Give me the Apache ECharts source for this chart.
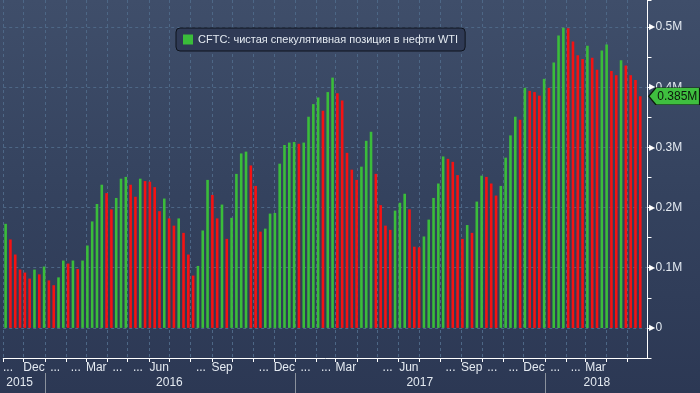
<!DOCTYPE html>
<html><head><meta charset="utf-8">
<script src="https://cdn.jsdelivr.net/npm/echarts@6/dist/echarts.min.js"></script>
<style>html,body{margin:0;padding:0;background:#2c3955;}#c{width:700px;height:393px;}</style>
</head><body><div id="c"></div>
<script>
// ---- data (thousands of contracts), weekly from 2015-11-03 ----
const firstWeek = [2015, 10, 3];
const netPositionK = [
 173,147,122,97,92,82,97,89,102,79,71,84,112,107,112,98,112,137,177,206,
 238,224,197,216,248,251,238,218,248,244,243,234,194,215,182,170,182,158,122,87,
 103,162,246,221,182,205,148,183,256,290,293,270,236,160,165,190,191,273,304,308,
 309,306,308,351,372,383,361,392,416,390,378,291,263,246,268,311,326,256,204,170,
 163,195,208,223,197,135,134,152,180,216,240,285,281,276,254,148,171,158,210,253,
 251,240,220,236,283,320,351,346,399,394,392,386,414,399,441,486,499,498,476,453,
 447,469,449,429,461,471,427,420,445,436,420,412,385
];
const seriesName = 'CFTC: чистая спекулятивная позиция в нефти WTI';
const axisStart = [2015, 10, 1];
const axisEnd = [2018, 4, 31];
const monthLabelDates = ['2015-11-08','2015-12-16','2016-01-16','2016-02-15','2016-03-16','2016-04-16','2016-05-16','2016-06-16','2016-08-16','2016-09-16','2016-11-16','2016-12-16','2017-01-16','2017-02-15','2017-03-16','2017-05-16','2017-06-16','2017-08-16','2017-09-16','2017-10-16','2017-11-16','2017-12-16','2018-01-16','2018-02-15','2018-03-16'];
const monthLabelTexts = ['...','Dec','...','...','Mar','...','...','Jun','...','Sep','...','Dec','...','...','Mar','...','Jun','...','Sep','...','...','Dec','...','...','Mar'];
const yearLabelDates = ['2015-11-25','2016-07-01','2017-07-02','2018-03-18'];
const yearLabelTexts = ['2015','2016','2017','2018'];
const yMin = -50, yMax = 545, yStep = 50;

// ---- build ----
const DAY = 864e5;
const fmt = t => new Date(t).toISOString().slice(0, 10);
const t0 = Date.UTC(...firstWeek);
const weeks = [];
for (let i = 0; i <= netPositionK.length; i++) weeks.push(fmt(t0 + i * 7 * DAY));
const days = [];
for (let t = Date.UTC(...axisStart); t <= Date.UTC(...axisEnd); t += DAY) days.push(fmt(t));
const monthMap = {}; monthLabelDates.forEach((d, i) => monthMap[d] = monthLabelTexts[i]);
const yearMap = {}; yearLabelDates.forEach((d, i) => yearMap[d] = yearLabelTexts[i]);

const GREEN = '#3abd3a', RED = '#f51212';
const barData = netPositionK.map((v, i) => ({
  value: v,
  itemStyle: { color: (i === 0 || v >= netPositionK[i - 1]) ? GREEN : RED }
}));
const lastIdx = netPositionK.length - 1;
const lastVal = netPositionK[lastIdx];

const FONT = 'Liberation Sans';
const TXT = '#e4eaf1';
const GRID = '#4d6786';

const chart = echarts.init(document.getElementById('c'), null, { renderer: 'canvas' });
chart.setOption({
  animation: false,
  backgroundColor: { type: 'linear', x: 0, y: 0, x2: 0, y2: 1,
    colorStops: [{ offset: 0, color: '#3f4e6a' }, { offset: 0.5, color: '#34425e' }, { offset: 1, color: '#2c3854' }] },
  textStyle: { fontFamily: FONT },
  grid: { left: 0, right: 52.5, top: 0, bottom: 35, containLabel: false },
  legend: {
    left: 176, top: 28, padding: [6, 7, 6, 7],
    itemWidth: 10, itemHeight: 10, icon: 'rect',
    backgroundColor: '#2f3a55', borderColor: '#0e131c', borderWidth: 1, borderRadius: 4,
    textStyle: { color: TXT, fontSize: 11, fontFamily: FONT },
    data: [seriesName]
  },
  xAxis: [
    { type: 'category', data: weeks, boundaryGap: true, show: false },
    { type: 'category', data: days, boundaryGap: false, position: 'bottom',
      axisLine: { show: true, onZero: false, lineStyle: { color: '#ffffff', width: 1 } },
      axisTick: { show: true, interval: (i, v) => v.endsWith('-01'), length: 4, lineStyle: { color: '#ffffff' } },
      splitLine: { show: true, interval: (i, v) => v.endsWith('-01'), lineStyle: { color: GRID, type: [3, 3] } },
      axisLabel: { interval: (i, v) => v in monthMap, formatter: v => monthMap[v] || '', color: TXT, fontSize: 12, fontFamily: FONT, margin: 4 }
    },
    { type: 'category', data: days, boundaryGap: false, position: 'bottom', offset: 15,
      axisLine: { show: false, onZero: false },
      axisTick: { show: true, interval: (i, v) => v.endsWith('-01-01'), length: 20, lineStyle: { color: '#8a919c' } },
      splitLine: { show: false },
      axisLabel: { interval: (i, v) => v in yearMap, formatter: v => yearMap[v] || '', color: TXT, fontSize: 12, fontFamily: FONT, margin: 4 }
    }
  ],
  yAxis: {
    type: 'value', position: 'right', min: yMin, max: yMax, interval: yStep,
    axisLine: { show: true, lineStyle: { color: '#ffffff', width: 1 } },
    axisTick: { show: true, length: 4, lineStyle: { color: '#ffffff' } },
    splitLine: { show: true, lineStyle: { color: ['transparent', GRID], type: [3, 3] } },
    axisLabel: {
      margin: 1, color: TXT, fontSize: 12, fontFamily: FONT,
      formatter: v => {
        const r = Math.round(v);
        if (r < 0 || r % 100 !== 0 || r > 500) return '';
        return '{t|\u25B6}' + (r === 0 ? '0' : (r / 1000) + 'M');
      },
      rich: { t: { fontSize: 8, color: '#ffffff', padding: [0, 1, 0, 0] } }
    }
  },
  series: [{
    name: seriesName, type: 'bar', xAxisIndex: 0, yAxisIndex: 0,
    barWidth: 2.6, data: barData, itemStyle: { color: GREEN },
    markPoint: {
      silent: true,
      symbol: 'path://M0,8L7,0L50,0L50,16L7,16Z', symbolSize: [51, 17], symbolKeepAspect: false,
      symbolOffset: [34, 0],
      itemStyle: { color: '#3fbf3f', borderColor: '#0c1a0c', borderWidth: 1 },
      label: { show: true, formatter: () => (lastVal / 1000).toFixed(3) + 'M', color: '#0b150b', fontSize: 12, fontFamily: FONT, offset: [3, 0] },
      data: [{ coord: [lastIdx, lastVal] }]
    }
  }]
});
</script></body></html>
